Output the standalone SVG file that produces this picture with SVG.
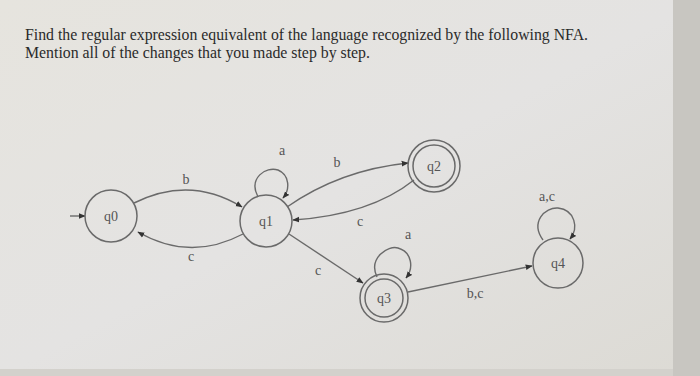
<svg xmlns="http://www.w3.org/2000/svg" width="700" height="376" viewBox="0 0 700 376">
<defs>
<marker id="ah" viewBox="0 0 10 10" refX="9" refY="5" markerWidth="7" markerHeight="7" orient="auto" markerUnits="userSpaceOnUse">
<path d="M0,1 L10,5 L0,9 z" fill="#333"/>
</marker>
<linearGradient id="bg" x1="0" y1="0" x2="1" y2="1">
<stop offset="0" stop-color="#e6e4de"/>
<stop offset="0.5" stop-color="#e4e3e2"/>
<stop offset="1" stop-color="#dcdad4"/>
</linearGradient>
</defs>
<style>
.st{fill:none;stroke:#6a6a6a;stroke-width:1.5}
.ed{fill:none;stroke:#6a6a6a;stroke-width:1.4;marker-end:url(#ah)}
.lb{font-family:"Liberation Serif",serif;font-size:14px;fill:#555;text-anchor:middle}
.nm{font-family:"Liberation Serif",serif;font-size:14px;fill:#555;text-anchor:middle;dominant-baseline:central}
.tt{font-family:"Liberation Serif",serif;font-size:16px;fill:#2a2a2a}
</style>
<rect width="700" height="376" fill="url(#bg)"/>
<rect x="673" y="0" width="27" height="376" fill="#c8c6c1"/>
<rect x="0" y="369" width="673" height="7" fill="#d3d1cc"/>
<text class="tt" x="25" y="40" textLength="563" lengthAdjust="spacingAndGlyphs">Find the regular expression equivalent of the language recognized by the following NFA.</text>
<text class="tt" x="25" y="58" textLength="345" lengthAdjust="spacingAndGlyphs">Mention all of the changes that you made step by step.</text>
<g id="edges">
<path class="ed" d="M70,216 L85,216"/>
<path class="ed" d="M134,203 Q190,175 242,207"/>
<path class="ed" d="M243,234 Q190,262 138,232"/>
<path class="ed" d="M287,207 Q340,170 408,163"/>
<path class="ed" d="M414,180 Q370,215 293,220"/>
<path class="ed" d="M289,234 L363,283"/>
<path class="ed" d="M408,292 L532,266"/>
<path class="ed" d="M258,197 C248,178 266,166 278,170 C290,175 290,190 283,198"/>
<path class="ed" d="M377,277 C368,258 388,245 398,248 C412,252 414,268 406,278"/>
<path class="ed" d="M543,240 C530,222 545,207 558,208 C575,210 579,228 570,239"/>
<text class="lb" x="282" y="155">a</text>
<text class="lb" x="186" y="184">b</text>
<text class="lb" x="191" y="261">c</text>
<text class="lb" x="337" y="167">b</text>
<text class="lb" x="360" y="226">c</text>
<text class="lb" x="318" y="275">c</text>
<text class="lb" x="408" y="239">a</text>
<text class="lb" x="475" y="298">b,c</text>
<text class="lb" x="547" y="201">a,c</text>
</g>
<g id="q0"><circle class="st" cx="111" cy="216" r="26"/><text class="nm" x="111" y="216">q0</text></g>
<g id="q1"><circle class="st" cx="266" cy="221" r="26"/><text class="nm" x="266" y="221">q1</text></g>
<g id="q2"><circle class="st" cx="434" cy="166" r="26"/><circle class="st" cx="434" cy="166" r="21"/><text class="nm" x="434" y="166">q2</text></g>
<g id="q3"><circle class="st" cx="384" cy="298" r="24"/><circle class="st" cx="384" cy="298" r="19"/><text class="nm" x="384" y="298">q3</text></g>
<g id="q4"><circle class="st" cx="558" cy="263" r="25"/><text class="nm" x="558" y="263">q4</text></g>
</svg>
